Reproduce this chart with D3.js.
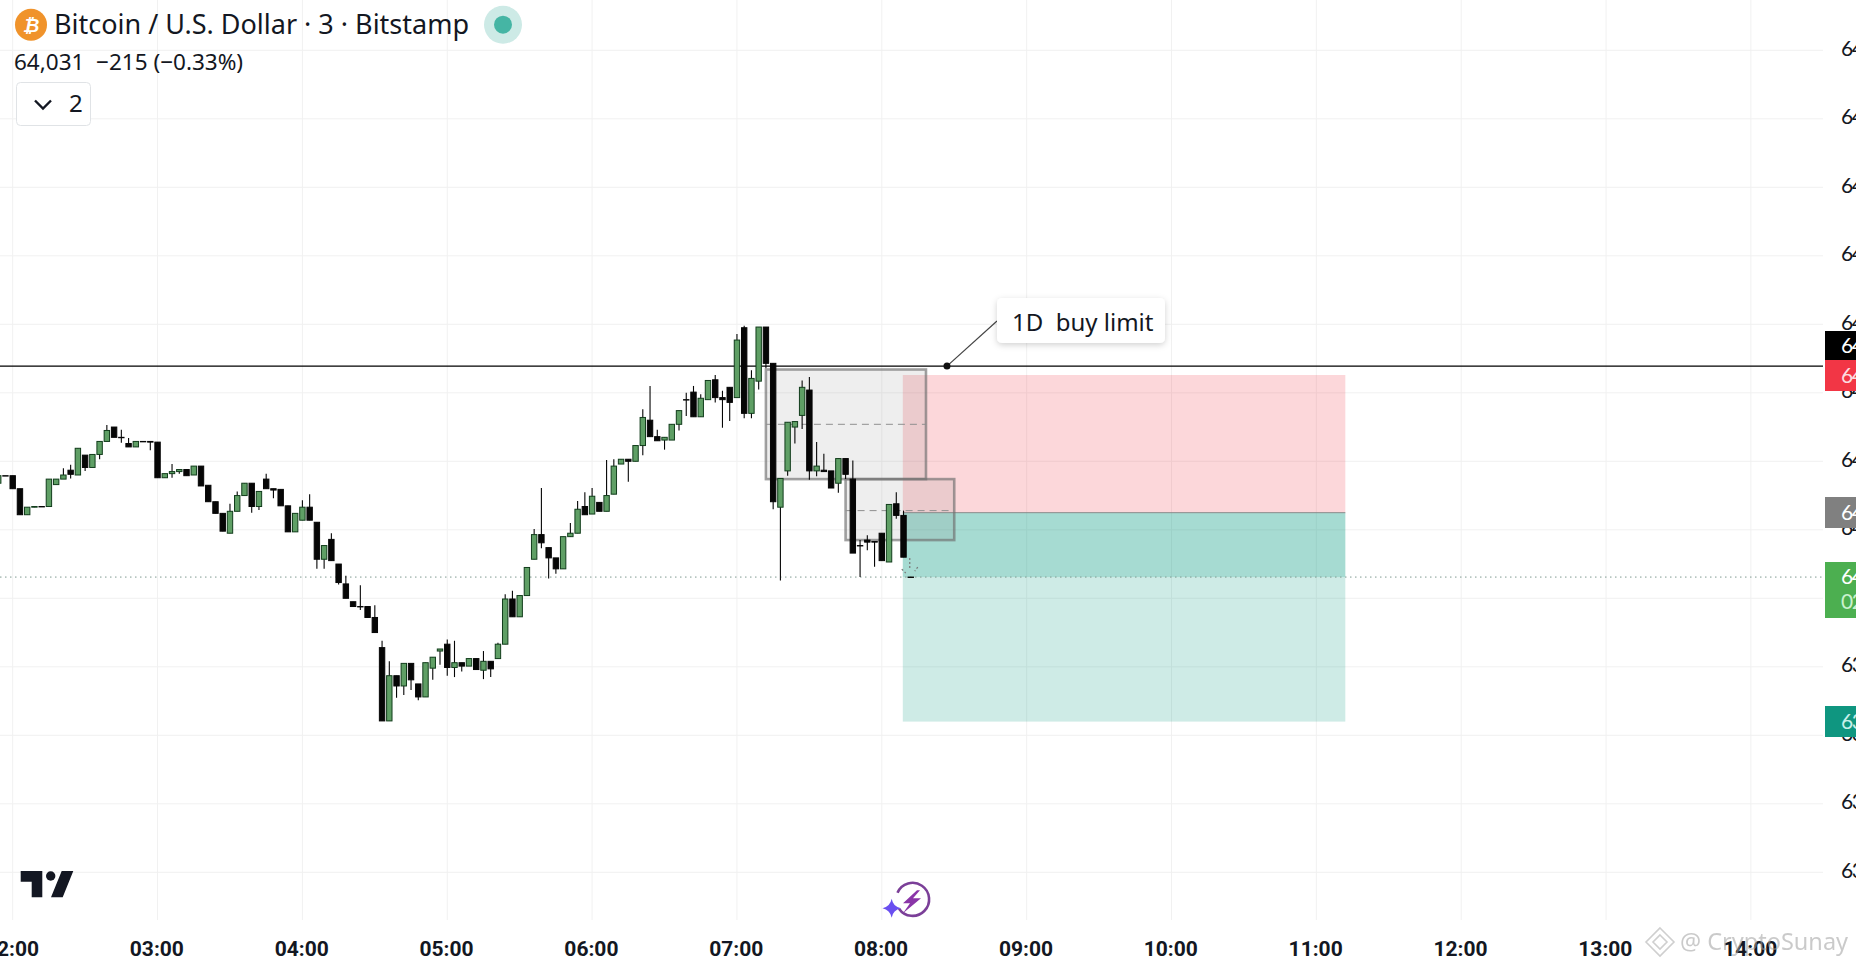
<!DOCTYPE html>
<html><head><meta charset="utf-8">
<script src="https://cdn.jsdelivr.net/npm/d3@7/dist/d3.min.js"></script>
<style>html,body{margin:0;padding:0;background:#fff;overflow:hidden}svg{display:block}</style>
</head><body><svg id="c" width="1856" height="966"></svg>
<script>
const opens=[64168,64179,64179,64160,64122,64133,64134,64134,64166,64174,64187,64180,64209,64191,64210,64229,64250,64235,64226,64221,64229,64229,64228,64176,64182,64185,64188,64180,64193,64165,64141,64124,64095,64127,64150,64168,64134,64174,64160,64159,64135,64097,64114,64133,64111,64057,64086,64050,64021,63995,63988,63988,63972,63928,63821,63887,63872,63905,63875,63856,63898,63923,63933,63899,63906,63901,63912,63895,63908,63912,63933,63999,63973,64004,64057,64093,64074,64059,64043,64090,64095,64134,64123,64140,64127,64152,64196,64203,64200,64223,64260,64236,64231,64231,64254,64290,64301,64265,64290,64319,64293,64308,64293,64395,64270,64317,64396,64343,64133,64186,64250,64267,64304,64186,64187,64186,64168,64204,64174,64077,64085,64083,64095,64053,64138,64121,64031];
const closes=[64179,64179,64160,64122,64133,64134,64134,64174,64174,64180,64181,64219,64191,64210,64229,64245,64235,64235,64221,64229,64229,64228,64176,64182,64185,64188,64179,64193,64164,64141,64124,64098,64127,64150,64168,64134,64156,64160,64158,64135,64097,64124,64133,64114,64057,64077,64055,64023,64000,63988,63988,63972,63950,63821,63887,63872,63905,63881,63856,63906,63914,63926,63899,63906,63901,63912,63896,63908,63897,63933,63999,63973,64004,64045,64093,64081,64059,64043,64090,64095,64130,64122,64149,64127,64150,64193,64203,64200,64223,64264,64236,64230,64235,64254,64274,64290,64265,64292,64318,64293,64290,64286,64377,64270,64321,64396,64343,64141,64175,64257,64258,64308,64186,64193,64185,64161,64204,64181,64066,64077,64082,64082,64055,64137,64121,64060,64031];
const highs=[64179,64179,64179,64160,64133,64134,64134,64174,64174,64190,64195,64219,64209,64210,64229,64253,64250,64246,64234,64229,64229,64229,64228,64182,64196,64188,64188,64193,64193,64165,64141,64124,64138,64156,64168,64168,64156,64182,64160,64159,64135,64124,64143,64152,64111,64077,64095,64050,64033,63995,64019,63988,63990,63938,63908,63887,63905,63905,63875,63906,63914,63926,63940,63938,63906,63912,63912,63923,63908,63935,64006,64011,64004,64045,64101,64161,64074,64059,64090,64110,64142,64155,64161,64140,64202,64203,64203,64203,64223,64276,64310,64246,64235,64254,64274,64300,64310,64298,64318,64326,64303,64308,64386,64398,64333,64396,64396,64343,64175,64257,64258,64318,64323,64228,64211,64186,64204,64204,64201,64085,64092,64083,64095,64137,64155,64128,64031];
const lows=[64168,64179,64160,64122,64122,64133,64134,64134,64166,64174,64175,64180,64186,64191,64203,64229,64235,64227,64221,64221,64229,64216,64176,64176,64176,64182,64179,64180,64164,64141,64124,64098,64095,64127,64150,64125,64129,64160,64146,64135,64097,64097,64114,64114,64043,64043,64055,64020,64000,63988,63983,63972,63950,63821,63821,63855,63859,63866,63851,63856,63881,63903,63887,63885,63893,63901,63896,63882,63885,63912,63933,63973,63973,64004,64057,64073,64029,64036,64043,64090,64095,64122,64123,64127,64127,64152,64196,64170,64200,64209,64236,64230,64217,64231,64245,64266,64265,64265,64290,64286,64249,64259,64293,64263,64263,64305,64336,64130,64026,64179,64226,64247,64173,64178,64185,64161,64154,64174,64066,64031,64070,64046,64055,64053,64116,64060,64031];
const priceTicks=[63600,63700,63800,63900,64000,64100,64200,64300,64400,64500,64600,64700,64800];
const timeTickHours=[2,3,4,5,6,7,8,9,10,11,12,13,14];
const resistanceLevel=64339;
const lastPrice=64031;
const riskReward={entry:64125,stop:64326,target:63820,startBar:124.9,endHourMinute:[11,12]};
const zoneTop=[64334,64174], zoneBottom=[64174,64085], zoneMid=[64254,64128], zoneStartBar=[106,117], zoneEndBar=[128.1,132];
const priceBadges=[["64,339",331,360,"#000000","#ffffff"],["64,326",360,391,"#f23645","#fbdde0"],["64,125",497,528,"#808080","#ffffff"],["64,031",562,618,"#4caf50","#ffffff"],["63,821",706,737,"#0f9680","#c8f0ea"]];
const countdown="02:11";

const svg=d3.select("#c");
const t0=new Date(Date.UTC(2024,7,1,1,54));
const barTime=i=>new Date(t0.getTime()+i*180000);
const hourTime=h=>new Date(Date.UTC(2024,7,1,h,0));
const x=d3.scaleUtc().domain([hourTime(2),hourTime(14)]).range([12.7,1750.9]);
const y=d3.scaleLinear().domain([63600,64800]).range([872.3,50.3]);
const paneR=1823, paneB=920;
const bars=opens.map((o,i)=>({o,c:closes[i],h:highs[i],l:lows[i],t:barTime(i)}));

// grid
svg.append("g").selectAll("line").data(timeTickHours).join("line")
 .attr("x1",d=>x(hourTime(d))).attr("x2",d=>x(hourTime(d))).attr("y1",0).attr("y2",paneB).attr("stroke","#f1f1f1");
svg.append("g").selectAll("line").data(priceTicks).join("line")
 .attr("x1",0).attr("x2",paneR).attr("y1",d=>y(d)).attr("y2",d=>y(d)).attr("stroke","#f1f1f1");

// risk / reward
const rrL=x(barTime(riskReward.startBar)), rrR=x(new Date(Date.UTC(2024,7,1,...riskReward.endHourMinute)));
const band=(a,b,fill)=>svg.append("rect").attr("x",rrL).attr("width",rrR-rrL).attr("y",y(a)).attr("height",y(b)-y(a)).attr("fill",fill);
band(riskReward.stop,riskReward.entry,"rgba(242,54,69,0.2)");
band(riskReward.entry,riskReward.target,"rgba(8,153,129,0.2)");
band(riskReward.entry,lastPrice,"rgba(8,153,129,0.2)");
svg.append("line").attr("x1",rrL).attr("x2",rrR).attr("y1",y(riskReward.entry)).attr("y2",y(riskReward.entry)).attr("stroke","#8a8a8a").attr("stroke-width",1);

// zones
zoneTop.forEach((top,i)=>{
 const l=x(barTime(zoneStartBar[i])), r=x(barTime(zoneEndBar[i]));
 svg.append("rect").attr("x",l).attr("y",y(top)).attr("width",r-l).attr("height",y(zoneBottom[i])-y(top))
  .attr("fill","rgba(120,120,120,0.13)").attr("stroke","rgba(110,110,110,0.65)").attr("stroke-width",2.6);
 svg.append("line").attr("x1",l).attr("x2",r).attr("y1",y(zoneMid[i])).attr("y2",y(zoneMid[i]))
  .attr("stroke","#8f8f8f").attr("stroke-dasharray","7 5");
});

// level lines
svg.append("line").attr("x1",0).attr("x2",paneR).attr("y1",y(lastPrice)).attr("y2",y(lastPrice))
 .attr("stroke","#7f9a90").attr("stroke-dasharray","1.5 3.5");
svg.append("line").attr("x1",0).attr("x2",paneR).attr("y1",y(resistanceLevel)).attr("y2",y(resistanceLevel)).attr("stroke","#000").attr("stroke-width",1.2);

// candles
const W=5.4;
svg.append("g").selectAll("line").data(bars).join("line")
 .attr("x1",d=>x(d.t)).attr("x2",d=>x(d.t)).attr("y1",d=>y(d.h)).attr("y2",d=>y(d.l)).attr("stroke","#050505").attr("stroke-width",1.1);
svg.append("g").selectAll("rect").data(bars).join("rect")
 .attr("x",d=>x(d.t)-W/2).attr("width",W)
 .attr("y",d=>y(Math.max(d.o,d.c)))
 .attr("height",d=>Math.max(0.4,Math.abs(y(d.o)-y(d.c))))
 .attr("fill",d=>d.c>d.o?"#5f9f65":"#060606")
 .attr("stroke",d=>d.c>d.o?"#123d1c":"#060606").attr("stroke-width",1);

// marker near last bar
const mx=x(barTime(126)), my=y(lastPrice);
[[-9,-8,-5,-4],[-1,-19,-1,-9],[7,-10,4,-6]].forEach(s=>svg.append("line")
 .attr("x1",mx+s[0]).attr("y1",my+s[1]).attr("x2",mx+s[2]).attr("y2",my+s[3]).attr("stroke","#777").attr("stroke-width",1.2).attr("stroke-dasharray","2 2"));

// axes
const fontUI="'Noto Sans',sans-serif";
const ax=d3.axisRight(y).tickValues(priceTicks).tickSize(0).tickPadding(16).tickFormat(d3.format(","));
const gy=svg.append("g").attr("transform",`translate(1825,-1.8)`).call(ax);
gy.select(".domain").remove();
gy.selectAll("text").attr("font-family","Lato,sans-serif").attr("font-size",21).attr("letter-spacing",-1.5).attr("fill","#131722");
const xa=d3.axisBottom(x).tickValues(timeTickHours.map(hourTime)).tickSize(0).tickPadding(0).tickFormat(d3.utcFormat("%H:%M"));
const gx=svg.append("g").attr("transform",`translate(-1.2,941.5)`).call(xa);
gx.select(".domain").remove();
gx.selectAll("text").attr("font-family","Roboto,sans-serif").attr("font-weight",700).attr("font-size",21).attr("fill","#131722");

// price badges
priceBadges.forEach(b=>{
 svg.append("rect").attr("x",1825).attr("y",b[1]).attr("width",31).attr("height",b[2]-b[1]).attr("fill",b[3]);
 const g=b[2]-b[1]>40;
 svg.append("text").attr("x",1841).attr("y",g?b[1]+22:(b[1]+b[2])/2+7).attr("font-family","Lato,sans-serif").attr("font-size",21).attr("letter-spacing",-1.5).attr("fill",b[4]).text(b[0]);
 if(g) svg.append("text").attr("x",1841).attr("y",b[1]+47).attr("font-family","Lato,sans-serif").attr("font-size",21).attr("letter-spacing",-1.5).attr("fill","#c9f2cd").text(countdown);
});

// header
svg.append("circle").attr("cx",31).attr("cy",24.7).attr("r",16).attr("fill","#f0932b");
svg.append("text").attr("x",31).attr("y",32).attr("text-anchor","middle").attr("font-family","'DejaVu Sans',sans-serif").attr("font-weight",700).attr("font-style","italic").attr("font-size",19).attr("fill","#fff").text("₿");
svg.append("text").attr("x",54).attr("y",33.5).attr("font-family",fontUI).attr("font-size",27).attr("fill","#131722").text("Bitcoin / U.S. Dollar · 3 · Bitstamp");
svg.append("circle").attr("cx",503).attr("cy",24.7).attr("r",19).attr("fill","#cdeae6");
svg.append("circle").attr("cx",503).attr("cy",24.7).attr("r",9).attr("fill","#45b5a4");
svg.append("text").attr("x",14).attr("y",70).attr("font-family",fontUI).attr("font-size",22.5).attr("fill","#131722").attr("xml:space","preserve").text("64,031  −215 (−0.33%)");
svg.append("rect").attr("x",16.5).attr("y",82.5).attr("width",74).attr("height",43).attr("rx",4).attr("fill","#fff").attr("stroke","#e0e3e6");
svg.append("path").attr("d","M35 100.5l8 8l8-8").attr("fill","none").attr("stroke","#131722").attr("stroke-width",2.4);
svg.append("text").attr("x",69).attr("y",112).attr("font-family",fontUI).attr("font-size",24).attr("fill","#131722").text("2");

// callout
const defs=svg.append("defs");
const f=defs.append("filter").attr("id","sh").attr("x","-20%").attr("y","-30%").attr("width","140%").attr("height","170%");
f.append("feDropShadow").attr("dx",0).attr("dy",2).attr("stdDeviation",3).attr("flood-color","#000").attr("flood-opacity",0.18);
const ax0=x(new Date(Date.UTC(2024,7,1,8,27))), ay0=y(resistanceLevel);
svg.append("line").attr("x1",ax0).attr("y1",ay0).attr("x2",997).attr("y2",321).attr("stroke","#444").attr("stroke-width",1.2);
svg.append("circle").attr("cx",ax0).attr("cy",ay0).attr("r",3.5).attr("fill","#111");
svg.append("rect").attr("x",997).attr("y",298).attr("width",168).attr("height",45).attr("rx",5).attr("fill","#fff").attr("filter","url(#sh)");
svg.append("text").attr("x",1012).attr("y",331).attr("font-family",fontUI).attr("font-size",24).attr("fill","#131722").attr("xml:space","preserve").text("1D  buy limit");

// TradingView logo
svg.append("path").attr("fill","#131722").attr("d","M20.7 871H42.3V897.3H31.7V881.7H20.7Z M61.7 871H73.3L62.7 897.3H51Z");
svg.append("circle").attr("cx",50.7).attr("cy",876).attr("r",4.7).attr("fill","#131722");

// bolt icon
const icon=svg.append("g").attr("transform","translate(0,2.2)");
icon.append("path").attr("d","M897.5 890.5A16.5 16.5 0 1 1 899 906.5").attr("fill","none").attr("stroke","#7b3f98").attr("stroke-width",2.6);
icon.append("path").attr("d","M917 888L903 901H910L903 911L921 896H913L920 888Z").attr("fill","#8a35a8");
icon.append("path").attr("d","M891.7 896.5Q893 904.5 901 906Q893 907.5 891.7 915.5Q890 907.5 882.5 906Q890 904.5 891.7 896.5Z").attr("fill","#6a4ff0");

// watermark
const wm=svg.append("g").attr("opacity",0.55);
wm.append("path").attr("d","M1660 928L1674 942L1660 956L1646 942Z M1660 935L1667 942L1660 949L1653 942Z").attr("fill","none").attr("stroke","#a8a8a8").attr("stroke-width",1.6);
wm.append("text").attr("x",1680).attr("y",950).attr("font-family",fontUI).attr("font-size",23.5).attr("fill","#a0a0a0").text("@ CryptoSunay");
</script></body></html>
